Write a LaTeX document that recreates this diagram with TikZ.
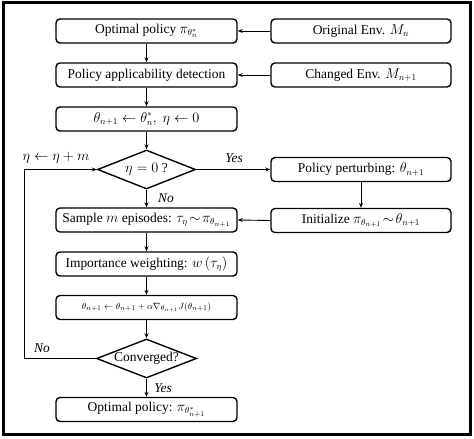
\documentclass[tikz,border=0pt]{standalone}
\usepackage{fontspec}
\setmainfont{Liberation Serif}
\usetikzlibrary{shapes.geometric,arrows.meta}
\begin{document}
\begin{tikzpicture}[x=1bp,y=-1bp,
  box/.style={draw,line width=1.4bp,rounded corners=4bp,minimum height=24bp,inner sep=0pt,font=\fontsize{13.5}{15}\selectfont},
  lbox/.style={box,minimum width=181bp},
  rbox/.style={box,minimum width=180bp},
  dia/.style={draw,diamond,line width=1.4bp,inner sep=0pt,aspect=2.5,font=\fontsize{13.5}{15}\selectfont},
  arr/.style={line width=0.9bp,-{Stealth[length=5bp,width=4bp]}},
  lab/.style={font=\fontsize{13.5}{15}\selectfont\itshape}]
\useasboundingbox (0,0) rectangle (474,439);
\draw[line width=3bp] (3,3) rectangle (470,434);
\node[lbox] (b1) at (146.5,31) {Optimal policy $\pi_{\theta_n^*}$};
\node[rbox] (r1) at (361,31) {Original Env. $M_n$};
\node[lbox] (b2) at (146.5,75) {Policy applicability detection};
\node[rbox] (r2) at (361,75) {Changed Env. $M_{n+1}$};
\node[lbox] (b3) at (146.5,119) {$\theta_{n+1}\leftarrow\theta_n^*,\ \eta\leftarrow 0$};
\node[dia,minimum width=98bp,minimum height=39bp] (d1) at (146.5,169.5) {$\eta=0$ ?};
\node[rbox] (pp) at (361,169.5) {Policy perturbing: $\theta_{n+1}$};
\node[lbox] (s) at (146.5,220) {Sample $m$ episodes: $\tau_\eta\!\sim\!\pi_{\theta_{n+1}}$};
\node[rbox] (in) at (361,220.5) {Initialize $\pi_{\theta_{n+1}}\!\sim\!\theta_{n+1}$};
\node[lbox] (iw) at (146.5,264) {Importance weighting: $w\left(\tau_\eta\right)$};
\node[lbox,font=\fontsize{9.5}{11}\selectfont] (up) at (146.5,307.5) {$\theta_{n+1}\leftarrow\theta_{n+1}+\alpha\nabla_{\theta_{n+1}}J(\theta_{n+1})$};
\node[dia,minimum width=100bp,minimum height=39bp] (d2) at (146.5,358.5) {Converged?};
\node[lbox] (fin) at (146.5,409.5) {Optimal policy: $\pi_{\theta_{n+1}^*}$};
\coordinate (c1) at (24,358.5);
\coordinate (c2) at (24,169.5);
\draw[arr] (r1) -- (b1);
\draw[arr] (r2) -- (b2);
\draw[arr] (b1) -- (b2);
\draw[arr] (b2) -- (b3);
\draw[arr] (b3) -- (d1);
\draw[arr] (d1) -- (s);
\draw[arr] (s) -- (iw);
\draw[arr] (iw) -- (up);
\draw[arr] (up) -- (d2);
\draw[arr] (d2) -- (fin);
\draw[arr] (d1.east) -- (pp.west);
\draw[arr] (pp) -- (in);
\draw[arr] (in.west) -- (s.east);
\draw[arr] (d2.west) -- (c1) -- (c2) -- (d1.west);
\node[font=\fontsize{13.5}{15}\selectfont] (l1) at (56,158) {$\eta\leftarrow\eta+m$};
\node[lab] (l2) at (42,348) {No};
\node[lab] (l3) at (234,158) {Yes};
\node[lab] (l4) at (166,198) {No};
\node[lab] (l5) at (163,388) {Yes};
\end{tikzpicture}
\end{document}
